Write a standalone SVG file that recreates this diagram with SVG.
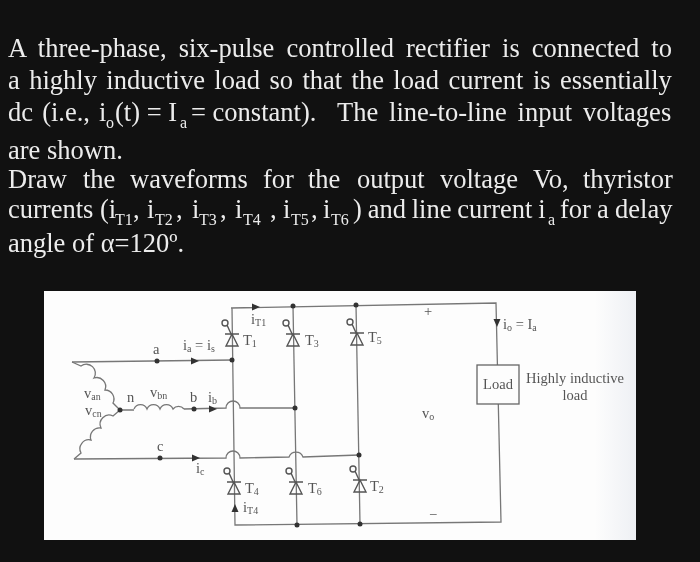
<svg xmlns="http://www.w3.org/2000/svg" width="700" height="562" viewBox="0 0 700 562">
<style>
.h{font-family:"Liberation Serif","Times New Roman",serif;font-size:26.5px;fill:#ececec}
.s{font-size:16px}
.c{font-family:"Liberation Serif","Times New Roman",serif;font-size:14.5px;fill:#555}
.b{font-size:10px}
.w{fill:none;stroke:#777;stroke-width:1.3}
.d{fill:#333}
.t{fill:none;stroke:#555;stroke-width:1.4}
</style>
<defs>
<filter id="soft" x="-5%" y="-5%" width="110%" height="110%"><feGaussianBlur stdDeviation="0.45"/></filter>
<linearGradient id="paper" x1="0" x2="1" y1="0" y2="0"><stop offset="0.93" stop-color="#fdfdfd"/><stop offset="1" stop-color="#eef0f4"/></linearGradient>
<g id="thy"><path class="t" d="M-7 0H7M0 0L-6 12H6Z"/><circle class="t" cx="-7" cy="-11" r="3"/><path class="t" d="M-5 -9L0 2"/></g>
<path id="ar" class="d" d="M-4 -3.5L4 0L-4 3.5Z"/>
<circle id="dot" class="d" r="2.5"/>
</defs>
<rect width="700" height="562" fill="#111"/>
<g id="question" class="h" filter="url(#soft)">
<text x="8" y="57" word-spacing="5.5">A three-phase, six-pulse controlled rectifier is connected to</text>
<text x="8" y="89" word-spacing="2.8">a highly inductive load so that the load current is essentially</text>
<text y="121"><tspan x="8" word-spacing="2.5">dc (i.e., i</tspan><tspan x="106" y="128" class="s">o</tspan><tspan x="115" y="121">(t) = I</tspan><tspan x="180" y="128" class="s">a</tspan><tspan x="191" y="121">= constant).</tspan><tspan x="337" word-spacing="4.2">The line-to-line input voltages</tspan></text>
<text x="8" y="159">are shown.</text>
<text y="188"><tspan x="8">Draw</tspan><tspan x="83">the</tspan><tspan x="130">waveforms</tspan><tspan x="263">for</tspan><tspan x="308">the</tspan><tspan x="357">output</tspan><tspan x="440">voltage</tspan><tspan x="533">Vo,</tspan><tspan x="583">thyristor</tspan></text>
<text y="218"><tspan x="8">currents (i</tspan><tspan x="115" y="225" class="s">T1</tspan><tspan x="133" y="218">,</tspan><tspan x="147">i</tspan><tspan x="155" y="225" class="s">T2</tspan><tspan x="176" y="218">,</tspan><tspan x="192">i</tspan><tspan x="199" y="225" class="s">T3</tspan><tspan x="220" y="218">,</tspan><tspan x="235">i</tspan><tspan x="243" y="225" class="s">T4</tspan><tspan x="270" y="218">,</tspan><tspan x="283">i</tspan><tspan x="291" y="225" class="s">T5</tspan><tspan x="311" y="218">,</tspan><tspan x="323">i</tspan><tspan x="331" y="225" class="s">T6</tspan><tspan x="353" y="218" word-spacing="-0.8">) and line current i</tspan><tspan x="548" y="225" class="s">a</tspan><tspan x="560" y="218" word-spacing="-0.4">for a delay</tspan></text>
<text x="8" y="252">angle of α=120º.</text>
</g>
<rect id="paper-sheet" x="44" y="291" width="592" height="249" fill="url(#paper)"/>
<g filter="url(#soft)">
<g id="connectors">
<path class="w" d="M231 308L496 303L501 522L235 525L232 308"/>
<path class="w" d="M293 306L297 525M356 305L360 524"/>
<path class="w" d="M72 362L233 360"/>
<path class="w" d="M120 410H134M184 409L226 408A7 7 0 0 1 240 408L295 408"/>
<path class="w" d="M74 459L226 458A7 7 0 0 1 240 458L289 457A7.500 7.500 0 0 1 303 457L359 455"/>
<path class="w" d="M72 362L81 366A9 9 0 0 1 94 378A9 9 0 0 1 105 390A9 9 0 0 1 113 403L120 410"/>
<path class="w" d="M120 410L113 416A9 9 0 0 0 101 428A9 9 0 0 0 91 440A9 9 0 0 0 81 453L74 459"/>
<path class="w" d="M134 409A7 7 0 0 1 147 409A7 7 0 0 1 160 409A7 7 0 0 1 173 409A7 7 0 0 1 184 409"/>
<use href="#ar" x="256" y="307"/>
<use href="#ar" x="195" y="361"/>
<use href="#ar" x="213" y="409"/>
<use href="#ar" x="196" y="458"/>
<use href="#ar" transform="translate(235 508) rotate(-90)"/>
<use href="#ar" transform="translate(497 323) rotate(90)"/>
<use href="#dot" x="293" y="306"/><use href="#dot" x="356" y="305"/>
<use href="#dot" x="157" y="361"/><use href="#dot" x="232" y="360"/>
<use href="#dot" x="120" y="410"/><use href="#dot" x="194" y="409"/><use href="#dot" x="295" y="408"/>
<use href="#dot" x="160" y="458"/><use href="#dot" x="359" y="455"/>
<use href="#dot" x="297" y="525"/><use href="#dot" x="360" y="524"/>
</g>
<g id="T1"><use href="#thy" x="232" y="334"/><text class="c" x="243" y="345">T<tspan class="b" dy="2">1</tspan></text></g>
<g id="T3"><use href="#thy" x="293" y="334"/><text class="c" x="305" y="345">T<tspan class="b" dy="2">3</tspan></text></g>
<g id="T5"><use href="#thy" x="357" y="333"/><text class="c" x="368" y="342">T<tspan class="b" dy="2">5</tspan></text></g>
<g id="T4"><use href="#thy" x="234" y="482"/><text class="c" x="245" y="493">T<tspan class="b" dy="2">4</tspan></text></g>
<g id="T6"><use href="#thy" x="296" y="482"/><text class="c" x="308" y="493">T<tspan class="b" dy="2">6</tspan></text></g>
<g id="T2"><use href="#thy" x="360" y="480"/><text class="c" x="370" y="491">T<tspan class="b" dy="2">2</tspan></text></g>
<g id="load"><rect x="477" y="365" width="42" height="39" fill="#fdfdfd" stroke="#666" stroke-width="1.3"/><text class="c" x="498" y="389" text-anchor="middle">Load</text></g>
<g id="load-note" class="c" text-anchor="middle"><text x="575" y="383">Highly inductive</text><text x="575" y="400">load</text></g>
<g id="labels" class="c">
<text x="251" y="324">i<tspan class="b" dy="2">T1</tspan></text>
<text x="153" y="354">a</text>
<text x="183" y="350">i<tspan class="b" dy="2">a</tspan><tspan dy="-2"> = i</tspan><tspan class="b" dy="2">s</tspan></text>
<text x="84" y="398">v<tspan class="b" dy="2">an</tspan></text>
<text x="127" y="402">n</text>
<text x="150" y="397">v<tspan class="b" dy="2">bn</tspan></text>
<text x="190" y="402">b</text>
<text x="208" y="402">i<tspan class="b" dy="2">b</tspan></text>
<text x="85" y="415">v<tspan class="b" dy="2">cn</tspan></text>
<text x="157" y="451">c</text>
<text x="196" y="473">i<tspan class="b" dy="2">c</tspan></text>
<text x="243" y="512">i<tspan class="b" dy="2">T4</tspan></text>
<text x="503" y="329">i<tspan class="b" dy="2">o</tspan><tspan dy="-2"> = I</tspan><tspan class="b" dy="2">a</tspan></text>
<text x="424" y="316">+</text>
<text x="429" y="519">−</text>
<text x="422" y="418">v<tspan class="b" dy="2">o</tspan></text>
</g>
</g>
</svg>
